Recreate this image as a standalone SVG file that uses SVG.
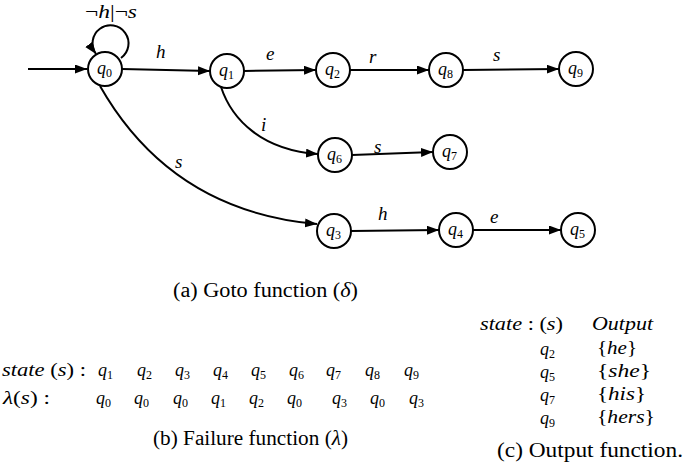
<svg xmlns="http://www.w3.org/2000/svg" width="685" height="467" viewBox="0 0 685 467" font-family="'Liberation Serif', 'Times New Roman', serif">
<style>
text{font-family:'Liberation Serif','Times New Roman',serif;fill:#000}
.i{font-size:19px;font-style:italic}
.n{font-size:18px;font-style:italic}
.s{font-size:12px;font-style:normal}
.u{font-style:normal}
.cap{font-size:20px}
circle{fill:#fff;stroke:#000;stroke-width:2}
.e path{fill:none;stroke:#000;stroke-width:2;marker-end:url(#ah)}
</style>
<defs>
<marker id="ah" markerUnits="userSpaceOnUse" markerWidth="13" markerHeight="10" refX="12" refY="4.5" orient="auto">
<path d="M0,0 L12,4.5 L0,9 z" fill="#000"/>
</marker>
</defs>
<g class="e" id="connectors">
<path d="M28,69 L87,69"/>
<path d="M121,58 A18,18 0 1 0 96,54"/>
<path d="M122,69 L210,71"/>
<path d="M244,71 L316,70"/>
<path d="M350,70 L429,70"/>
<path d="M463,70 L559,69"/>
<path d="M221,87 C232,120 262,150 318,154"/>
<path d="M352,155 L433,152"/>
<path d="M100,86 C145,165 215,215 317,224"/>
<path d="M351,231 L439,230"/>
<path d="M473,230 L561,230"/>
</g>
<g id="edge-labels">
<text class="i" x="85" y="18" textLength="52" lengthAdjust="spacingAndGlyphs"><tspan class="u">¬</tspan>h<tspan class="u">|¬</tspan>s</text>
<text class="i" x="156" y="58">h</text>
<text class="i" x="266" y="60">e</text>
<text class="i" x="369" y="63">r</text>
<text class="i" x="493" y="61">s</text>
<text class="i" x="261" y="131">i</text>
<text class="i" x="374" y="153">s</text>
<text class="i" x="175" y="168">s</text>
<text class="i" x="378" y="220">h</text>
<text class="i" x="490" y="223">e</text>
</g>
<g id="q0"><circle cx="105" cy="69" r="17"/><text class="n" x="97" y="74">q<tspan class="s" dy="3">0</tspan></text></g>
<g id="q1"><circle cx="227" cy="71" r="17"/><text class="n" x="219" y="76">q<tspan class="s" dy="3">1</tspan></text></g>
<g id="q2"><circle cx="333" cy="70" r="17"/><text class="n" x="325" y="75">q<tspan class="s" dy="3">2</tspan></text></g>
<g id="q8"><circle cx="446" cy="70" r="17"/><text class="n" x="438" y="75">q<tspan class="s" dy="3">8</tspan></text></g>
<g id="q9"><circle cx="576" cy="69" r="17"/><text class="n" x="568" y="74">q<tspan class="s" dy="3">9</tspan></text></g>
<g id="q6"><circle cx="335" cy="155" r="17"/><text class="n" x="327" y="160">q<tspan class="s" dy="3">6</tspan></text></g>
<g id="q7"><circle cx="450" cy="152" r="17"/><text class="n" x="442" y="157">q<tspan class="s" dy="3">7</tspan></text></g>
<g id="q3"><circle cx="334" cy="231" r="17"/><text class="n" x="326" y="236">q<tspan class="s" dy="3">3</tspan></text></g>
<g id="q4"><circle cx="456" cy="230" r="17"/><text class="n" x="448" y="235">q<tspan class="s" dy="3">4</tspan></text></g>
<g id="q5"><circle cx="578" cy="230" r="17"/><text class="n" x="570" y="235">q<tspan class="s" dy="3">5</tspan></text></g>
<text class="cap" x="173" y="297" textLength="185" lengthAdjust="spacingAndGlyphs">(a) Goto function (<tspan font-style="italic">δ</tspan>)</text>
<g id="failure-table">
<text class="i" x="2" y="376" textLength="84" lengthAdjust="spacingAndGlyphs">state <tspan class="u">(</tspan>s<tspan class="u">) :</tspan></text>
<text class="i" x="3" y="404" textLength="47" lengthAdjust="spacingAndGlyphs">λ<tspan class="u">(</tspan>s<tspan class="u">) :</tspan></text>
<text class="n" x="98" y="376">q<tspan class="s" dy="3">1</tspan></text>
<text class="n" x="137" y="376">q<tspan class="s" dy="3">2</tspan></text>
<text class="n" x="175" y="376">q<tspan class="s" dy="3">3</tspan></text>
<text class="n" x="213" y="376">q<tspan class="s" dy="3">4</tspan></text>
<text class="n" x="251" y="376">q<tspan class="s" dy="3">5</tspan></text>
<text class="n" x="289" y="376">q<tspan class="s" dy="3">6</tspan></text>
<text class="n" x="326" y="376">q<tspan class="s" dy="3">7</tspan></text>
<text class="n" x="365" y="376">q<tspan class="s" dy="3">8</tspan></text>
<text class="n" x="404" y="376">q<tspan class="s" dy="3">9</tspan></text>
<text class="n" x="96" y="404">q<tspan class="s" dy="3">0</tspan></text>
<text class="n" x="134" y="404">q<tspan class="s" dy="3">0</tspan></text>
<text class="n" x="173" y="404">q<tspan class="s" dy="3">0</tspan></text>
<text class="n" x="211" y="404">q<tspan class="s" dy="3">1</tspan></text>
<text class="n" x="249" y="404">q<tspan class="s" dy="3">2</tspan></text>
<text class="n" x="287" y="404">q<tspan class="s" dy="3">0</tspan></text>
<text class="n" x="332" y="404">q<tspan class="s" dy="3">3</tspan></text>
<text class="n" x="370" y="404">q<tspan class="s" dy="3">0</tspan></text>
<text class="n" x="409" y="404">q<tspan class="s" dy="3">3</tspan></text>
<text class="cap" x="153" y="445" textLength="195" lengthAdjust="spacingAndGlyphs">(b) Failure function (<tspan font-style="italic">λ</tspan>)</text>
</g>
<g id="output-table">
<text class="i" x="480" y="330" textLength="83" lengthAdjust="spacingAndGlyphs">state <tspan class="u">: (</tspan>s<tspan class="u">)</tspan></text>
<text class="i" x="592" y="330" textLength="61" lengthAdjust="spacingAndGlyphs">Output</text>
<text class="n" x="540" y="355">q<tspan class="s" dy="3">2</tspan></text>
<text class="n" x="540" y="378">q<tspan class="s" dy="3">5</tspan></text>
<text class="n" x="540" y="401">q<tspan class="s" dy="3">7</tspan></text>
<text class="n" x="540" y="424">q<tspan class="s" dy="3">9</tspan></text>
<text class="i" x="597" y="354" textLength="40" lengthAdjust="spacingAndGlyphs"><tspan class="u">{</tspan>he<tspan class="u">}</tspan></text>
<text class="i" x="597" y="377" textLength="54" lengthAdjust="spacingAndGlyphs"><tspan class="u">{</tspan>she<tspan class="u">}</tspan></text>
<text class="i" x="597" y="400" textLength="49" lengthAdjust="spacingAndGlyphs"><tspan class="u">{</tspan>his<tspan class="u">}</tspan></text>
<text class="i" x="597" y="423" textLength="58" lengthAdjust="spacingAndGlyphs"><tspan class="u">{</tspan>hers<tspan class="u">}</tspan></text>
<text class="cap" x="497" y="457" textLength="186" lengthAdjust="spacingAndGlyphs">(c) Output function.</text>
</g>
</svg>
